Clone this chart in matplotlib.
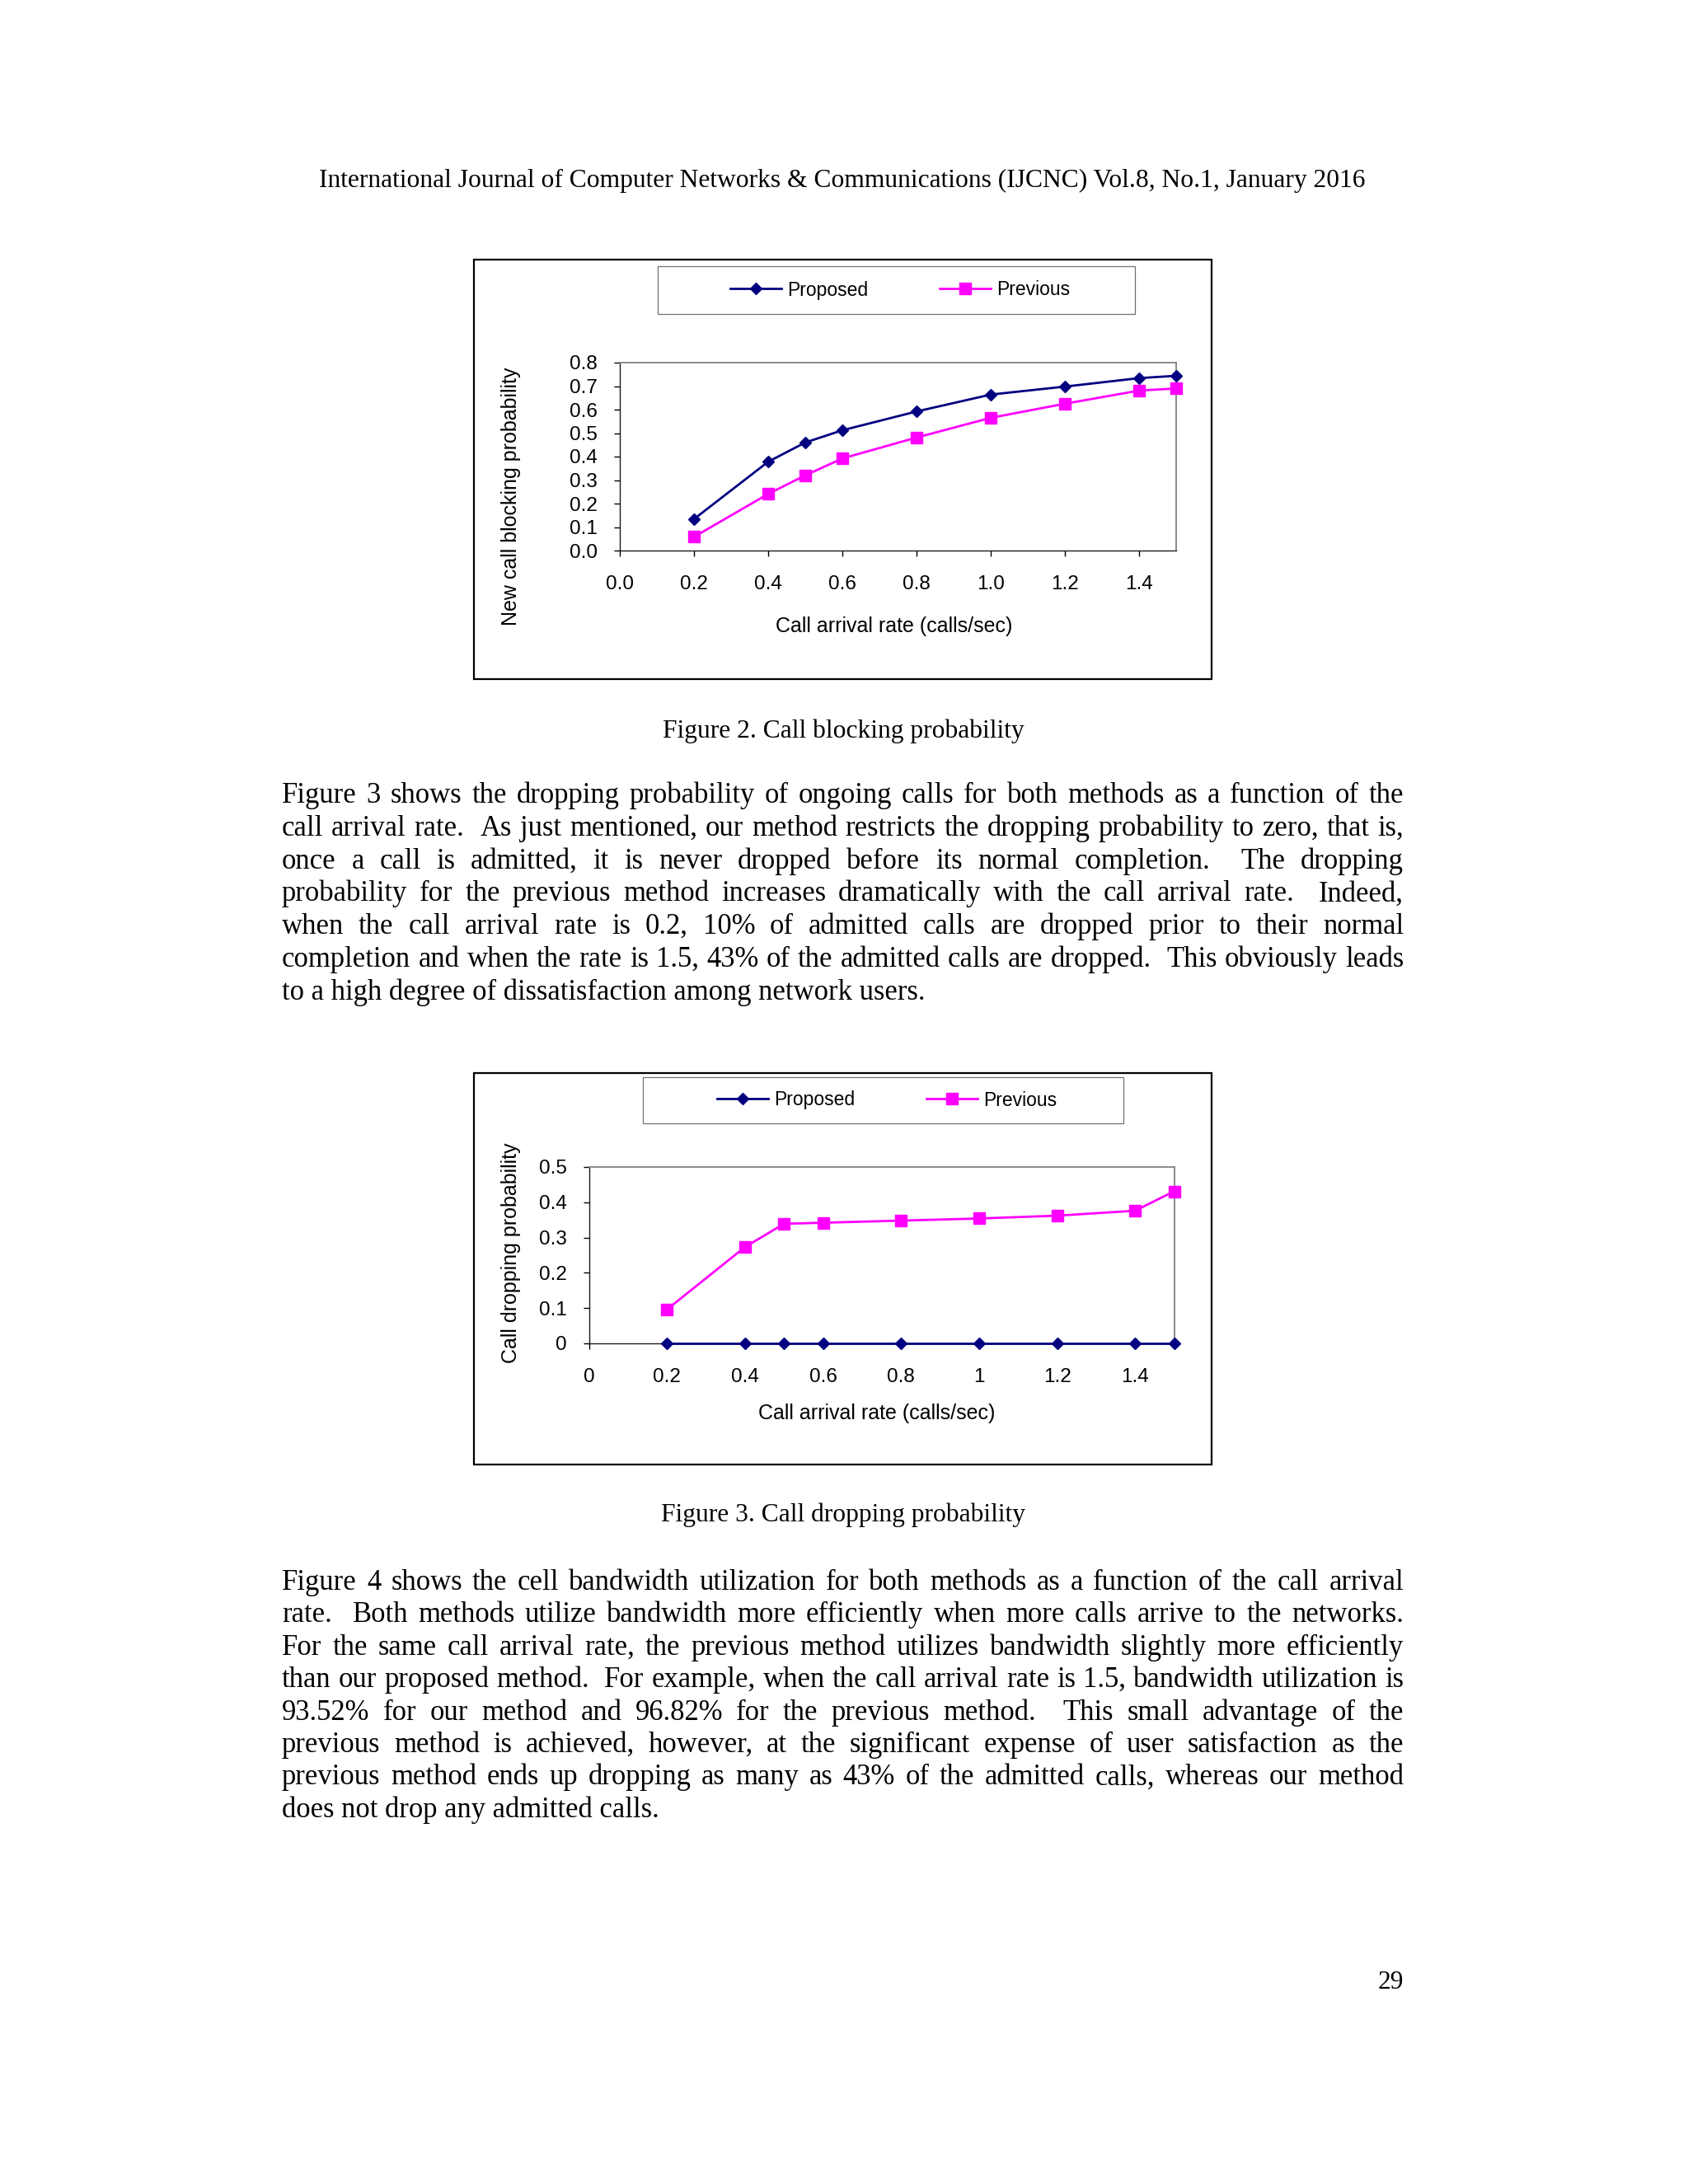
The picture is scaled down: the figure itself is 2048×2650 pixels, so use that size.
import matplotlib
matplotlib.use("Agg")
import matplotlib.pyplot as plt
from matplotlib.patches import Rectangle
from matplotlib.lines import Line2D

# ---------------- data ----------------
x_rate = [0.2, 0.4, 0.5, 0.6, 0.8, 1.0, 1.2, 1.4, 1.5]
block_proposed = [0.134, 0.378, 0.460, 0.512, 0.592, 0.664, 0.698, 0.734, 0.744]
block_previous = [0.058, 0.241, 0.320, 0.392, 0.481, 0.565, 0.625, 0.681, 0.690]
drop_proposed = [0, 0, 0, 0, 0, 0, 0, 0, 0]
drop_previous = [0.096, 0.273, 0.339, 0.342, 0.348, 0.354, 0.362, 0.376, 0.431]
series_names = ["Proposed", "Previous"]
xticks1 = [0.0, 0.2, 0.4, 0.6, 0.8, 1.0, 1.2, 1.4]
xticklabels1 = ["0.0", "0.2", "0.4", "0.6", "0.8", "1.0", "1.2", "1.4"]
yticks1 = [0.0, 0.1, 0.2, 0.3, 0.4, 0.5, 0.6, 0.7, 0.8]
yticklabels1 = ["0.0", "0.1", "0.2", "0.3", "0.4", "0.5", "0.6", "0.7", "0.8"]
xticks2 = [0, 0.2, 0.4, 0.6, 0.8, 1.0, 1.2, 1.4]
xticklabels2 = ["0", "0.2", "0.4", "0.6", "0.8", "1", "1.2", "1.4"]
yticks2 = [0, 0.1, 0.2, 0.3, 0.4, 0.5]
yticklabels2 = ["0", "0.1", "0.2", "0.3", "0.4", "0.5"]

header = "International Journal of Computer Networks & Communications (IJCNC) Vol.8, No.1, January 2016"
caption2 = "Figure 2. Call blocking probability"
caption3 = "Figure 3. Call dropping probability"
para1 = [
    "Figure 3 shows the dropping probability of ongoing calls for both methods as a function of the",
    "call arrival rate.  As just mentioned, our method restricts the dropping probability to zero, that is,",
    "once a call is admitted, it is never dropped before its normal completion.  The dropping",
    "probability for the previous method increases dramatically with the call arrival rate.  Indeed,",
    "when the call arrival rate is 0.2, 10% of admitted calls are dropped prior to their normal",
    "completion and when the rate is 1.5, 43% of the admitted calls are dropped.  This obviously leads",
    "to a high degree of dissatisfaction among network users.",
]
para2 = [
    "Figure 4 shows the cell bandwidth utilization for both methods as a function of the call arrival",
    "rate.  Both methods utilize bandwidth more efficiently when more calls arrive to the networks.",
    "For the same call arrival rate, the previous method utilizes bandwidth slightly more efficiently",
    "than our proposed method.  For example, when the call arrival rate is 1.5, bandwidth utilization is",
    "93.52% for our method and 96.82% for the previous method.  This small advantage of the",
    "previous method is achieved, however, at the significant expense of user satisfaction as the",
    "previous method ends up dropping as many as 43% of the admitted calls, whereas our method",
    "does not drop any admitted calls.",
]
page_number = "29"

# ---------------- layout helpers ----------------
W, H = 2048, 2650
fig = plt.figure(figsize=(W / 100, H / 100), dpi=100)
fig.patch.set_facecolor("white")

SERIF = "Liberation Serif"
SANS = "Liberation Sans"
NAVY = "#000080"
MAG = "#FF00FF"
TICK_FS = 17.5
LABEL_FS = 18
LEG_FS = 16.5
LW = 2.0
MS_D = 7.5
MS_S = 9.5


def fx(px):
    return px / W


def fy(py):
    return 1 - py / H


def axes_px(left, top, right, bottom):
    return fig.add_axes([fx(left), fy(bottom), (right - left) / W, (bottom - top) / H])


renderer = fig.canvas.get_renderer()


def paragraph(lines, base0, spacing, xl, xr, size):
    for i, line in enumerate(lines):
        yb = fy(base0 + i * spacing)
        if i == len(lines) - 1:
            fig.text(fx(xl), yb, line, fontsize=size, family=SERIF, va="baseline", ha="left")
            continue
        tokens = line.split(" ")
        words = []
        weights = []
        pending = 0
        for tok in tokens:
            if tok == "":
                pending += 1
                continue
            if words:
                weights.append(1 + pending)
            pending = 0
            words.append(tok)
        texts = [fig.text(0, yb, w, fontsize=size, family=SERIF, va="baseline", ha="left") for w in words]
        widths = [t.get_window_extent(renderer=renderer).width for t in texts]
        unit = (xr - xl - sum(widths)) / sum(weights)
        x = xl
        for j, (t, w) in enumerate(zip(texts, widths)):
            t.set_x(fx(x))
            if j < len(weights):
                x += w + unit * weights[j]


def box(left, top, right, bottom, color, lw):
    fig.patches.append(Rectangle((fx(left), fy(bottom)), (right - left) / W, (bottom - top) / H,
                                 transform=fig.transFigure, fill=False, edgecolor=color, linewidth=lw))


def style_axes(ax, xt, xtl, yt, ytl, ylim, xpad, ypad):
    ax.set_xlim(0, 1.5)
    ax.set_ylim(*ylim)
    ax.set_xticks(xt)
    ax.set_xticklabels(xtl)
    ax.set_yticks(yt)
    ax.set_yticklabels(ytl)
    for lab in ax.get_xticklabels() + ax.get_yticklabels():
        lab.set_family(SANS)
        lab.set_fontsize(TICK_FS)
    ax.tick_params(axis="x", direction="out", length=5.3, width=1.0, pad=xpad, colors="black")
    ax.tick_params(axis="y", direction="out", length=5.3, width=1.0, pad=ypad, colors="black")
    for side in ("left", "bottom"):
        ax.spines[side].set_color("#1a1a1a")
        ax.spines[side].set_linewidth(1.0)
    for side in ("top", "right"):
        ax.spines[side].set_color("#808080")
        ax.spines[side].set_linewidth(1.3)
    ax.set_facecolor("white")


def legend(ax, cx, cy):
    h1 = Line2D([], [], color=NAVY, lw=LW, marker="D", ms=MS_D, markerfacecolor=NAVY, markeredgecolor=NAVY)
    h2 = Line2D([], [], color=MAG, lw=LW, marker="s", ms=MS_S, markerfacecolor=MAG, markeredgecolor=MAG)
    ax.legend([h1, h2], series_names, loc="center", bbox_to_anchor=(fx(cx), fy(cy)),
              bbox_transform=fig.transFigure, ncol=2, frameon=False, handlelength=2.7,
              handletextpad=0.3, columnspacing=3.8, prop={"family": SANS, "size": LEG_FS},
              numpoints=1)


def plot_series(ax, prop_vals, prev_vals):
    ax.plot(x_rate, prop_vals, color=NAVY, lw=LW, marker="D", ms=MS_D, clip_on=False, zorder=3)
    ax.plot(x_rate, prev_vals, color=MAG, lw=LW, marker="s", ms=MS_S, clip_on=False, zorder=3)


# ---------------- page text ----------------
fig.text(fx(1022), fy(227), header, fontsize=22.7, family=SERIF, ha="center", va="baseline")
fig.text(fx(1023), fy(895), caption2, fontsize=22.7, family=SERIF, ha="center", va="baseline")
fig.text(fx(1023), fy(1846), caption3, fontsize=22.7, family=SERIF, ha="center", va="baseline")
paragraph(para1, 974, 39.8, 342, 1703, 24.9)
paragraph(para2, 1929, 39.4, 342, 1703, 24.9)
fig.text(fx(1703), fy(2413), page_number, fontsize=22.7, family=SERIF, ha="right", va="baseline")

# ---------------- chart 1 ----------------
box(574.5, 315, 1469.5, 824, "black", 1.6)
box(798, 323, 1377, 381, "#707070", 0.9)
ax1 = axes_px(752, 440, 1427, 668)
plot_series(ax1, block_proposed, block_previous)
style_axes(ax1, xticks1, xticklabels1, yticks1, yticklabels1, (0, 0.8), 16, 14)
legend(ax1, 1092, 352)
fig.text(fx(1085), fy(760), "Call arrival rate (calls/sec)", fontsize=LABEL_FS, family=SANS,
         ha="center", va="center")
fig.text(fx(620), fy(602), "New call blocking probability", fontsize=LABEL_FS, family=SANS,
         ha="center", va="center", rotation=90)

# ---------------- chart 2 ----------------
box(575, 1302, 1469.5, 1777, "black", 1.6)
box(780, 1307, 1363, 1363, "#707070", 0.9)
ax2 = axes_px(714.5, 1416, 1424.5, 1630)
plot_series(ax2, drop_proposed, drop_previous)
style_axes(ax2, xticks2, xticklabels2, yticks2, yticklabels2, (0, 0.5), 16, 14)
legend(ax2, 1076, 1335)
fig.text(fx(1064), fy(1715), "Call arrival rate (calls/sec)", fontsize=LABEL_FS, family=SANS,
         ha="center", va="center")
fig.text(fx(620), fy(1520), "Call dropping probability", fontsize=LABEL_FS, family=SANS,
         ha="center", va="center", rotation=90)

fig.savefig("out.png", dpi=100, facecolor="white")
